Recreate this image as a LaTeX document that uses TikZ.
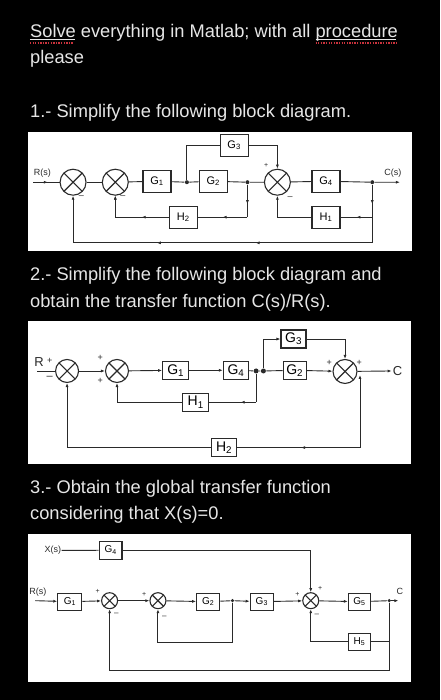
\documentclass[tikz,border=0pt]{standalone}
\usepackage{fontspec}
\setmainfont{Liberation Sans}
\usepackage{xcolor}
\usepackage{tikz}
\usetikzlibrary{arrows.meta, positioning, calc, decorations.markings}

\definecolor{txt}{HTML}{E6E6E6}
\definecolor{wire}{HTML}{2A2A2A}
\definecolor{spell}{HTML}{C8323C}
\newcommand{\fsz}[1]{\fontsize{#1}{#1}\selectfont}

\begin{document}
\begin{tikzpicture}[x=1pt, y=-1pt, >={Latex[length=4pt,width=3pt]},
    every path/.style={draw=wire, line width=0.9pt},
    question/.style={anchor=base west, text=txt, inner sep=0pt, font=\fsz{18.3}},
    sumjn/.style={draw=wire, circle, fill=white, inner sep=0pt, minimum size=#1, line width=1.1pt,
        path picture={\draw[line width=1.1pt] (path picture bounding box.south west) -- (path picture bounding box.north east)
            (path picture bounding box.north west) -- (path picture bounding box.south east);}},
    blk/.style 2 args={draw=wire, rectangle, fill=white, inner sep=0pt, line width=1.2pt, minimum width=#1, minimum height=#2},
    dot/.style={circle, fill=wire, inner sep=0pt, minimum size=#1},
    sgn/.style={inner sep=0pt, text=wire, font=\fsz{#1}},
    midarr/.style={postaction={decorate}, decoration={markings, mark=at position #1 with {\arrow{Latex[length=4pt,width=3pt]}}}},
    twoarr/.style 2 args={postaction={decorate}, decoration={markings,
        mark=at position #1 with {\arrow{Latex[length=4pt,width=3pt]}},
        mark=at position #2 with {\arrow{Latex[length=4pt,width=3pt]}}}}]
    \useasboundingbox (0,0) rectangle (440,700);
    \fill[black] (0,0) rectangle (440,700);

    % questions
    \node[question] (q0a) at (29.3,36.7) {Solve everything in Matlab; with all procedure};
    \node[question] (q0b) at (29.3,63.4) {please};
    \node[question] (q1) at (29.3,116.7) {1.- Simplify the following block diagram.};
    \node[question] (q2a) at (29.3,280.7) {2.- Simplify the following block diagram and};
    \node[question] (q2b) at (29.3,307.4) {obtain the transfer function C(s)/R(s).};
    \node[question] (q3a) at (29.3,493.3) {3.- Obtain the global transfer function};
    \node[question] (q3b) at (29.3,520) {considering that X(s)=0.};
    \draw[txt, line width=0.8pt] (29.5,39.4) -- (74.5,39.4) (315.5,39.4) -- (396.5,39.4);
    \draw[spell, line width=1.3pt, dash pattern=on 1.3pt off 1.3pt] (29.5,42.5) -- (73.5,42.5) (315.5,42.5) -- (396.5,42.5);

    % diagram 1
    \fill[white] (28.3,131.7) rectangle (411.7,250.7);
    \node[sgn=9] (r1) at (42,173) {R(s)};
    \node[sgn=9] (c1) at (393,173) {C(s)};
    \coordinate (in1) at (33,182);
    \coordinate (out1) at (400,182);
    \node[sumjn=26pt] (s11) at (72.7,182) {};
    \node[sumjn=26pt] (s12) at (115,182) {};
    \node[blk={28pt}{22pt}, font=\fsz{11}] (g11) at (156.7,181) {G\textsubscript{1}};
    \node[dot=4pt] (j11) at (186.7,182) {};
    \node[blk={28pt}{22pt}, font=\fsz{11}] (g12) at (213,181) {G\textsubscript{2}};
    \node[dot=4pt] (j12) at (247.3,182) {};
    \node[sumjn=26pt] (s13) at (277.3,182) {};
    \node[blk={28pt}{22pt}, font=\fsz{11}] (g14) at (326,181) {G\textsubscript{4}};
    \node[dot=4pt] (j13) at (372.3,182) {};
    \node[blk={28pt}{22pt}, font=\fsz{11}] (g13) at (234,145) {G\textsubscript{3}};
    \node[blk={28pt}{22pt}, font=\fsz{11}] (h12) at (183,217) {H\textsubscript{2}};
    \node[blk={28pt}{22pt}, font=\fsz{11}] (h11) at (326,217) {H\textsubscript{1}};
    \node[sgn=9] at (81,196.7) {--};
    \node[sgn=9] at (122.7,196.7) {--};
    \node[sgn=9] at (290,197.7) {--};
    \node[sgn=7] at (266,165) {+};
    \coordinate (c11) at (j12 |- h12);
    \coordinate (c12) at (j13 |- h11);
    \coordinate (c13) at (372.3,242.7);
    \coordinate (c14) at (72.7,242.7);

    \draw[midarr=0.55] (in1) -- (s11);
    \draw (s11) -- (s12);
    \draw (s12) -- (g11);
    \draw (g11) -- (j11) -- (g12);
    \draw (g12) -- (j12) -- (s13);
    \draw (s13) -- (g14);
    \draw[->] (g14) -- (j13) -- (out1);
    \draw (j11) |- (g13);
    \draw[->] (g13) -| (s13);
    \draw[midarr=0.6] (j12) -- (c11);
    \draw[midarr=0.5] (c11) -- (h12);
    \draw[->, midarr=0.36] (h12) -| (s12);
    \draw[midarr=0.6] (j13) -- (c12);
    \draw[midarr=0.5] (c12) -- (h11);
    \draw[->] (h11) -| (s13);
    \draw (c12) -- (c13);
    \draw[twoarr={0.39}{0.72}] (c13) -- (c14);
    \draw[->] (c14) -- (s11);

    % diagram 2
    \fill[white] (28.3,321.7) rectangle (410.7,464);
    \node[sgn=13] (r2) at (38.7,362) {R};
    \node[sgn=13] (c2) at (397.5,371.5) {C};
    \node[sgn=9] at (49.3,361) {+};
    \node[sgn=11] at (49.3,378.3) {--};
    \coordinate (in2) at (37,371);
    \coordinate (out2) at (391.7,371);
    \node[sumjn=23pt] (s21) at (66.7,371) {};
    \node[sumjn=23pt] (s22) at (116.7,371) {};
    \node[sgn=9] at (100,357.7) {+};
    \node[sgn=9] at (100,380.5) {+};
    \node[blk={26pt}{18pt}, font=\fsz{14}] (g21) at (175.5,370.3) {G\textsubscript{1}};
    \node[blk={25pt}{18pt}, font=\fsz{14}] (g24) at (235.8,370.3) {G\textsubscript{4}};
    \node[dot=5pt] (j21) at (256,371) {};
    \node[dot=5pt] (j22) at (263.3,371) {};
    \node[blk={23pt}{18pt}, font=\fsz{14}] (g22) at (294.7,370.3) {G\textsubscript{2}};
    \node[blk={25pt}{18pt}, font=\fsz{14}] (g23) at (293.5,339) {G\textsubscript{3}};
    \node[sumjn=24pt] (s23) at (345,371.5) {};
    \node[sgn=9] at (329.3,363.3) {+};
    \node[sgn=9] at (359.3,363.3) {+};
    \node[blk={26pt}{18pt}, font=\fsz{14}] (h21) at (195.5,402.3) {H\textsubscript{1}};
    \node[blk={25pt}{18pt}, font=\fsz{14}] (h22) at (224,447.7) {H\textsubscript{2}};
    \coordinate (c21) at (j21 |- h21);
    \coordinate (c22) at (360,447.7);
    \coordinate (t22) at (360,375);

    \draw (in2) -- (s21);
    \draw[->] (s21) -- (s22);
    \draw[->] (s22) -- (g21);
    \draw[->] (g21) -- (g24);
    \draw (g24) -- (j21) -- (j22) -- (g22);
    \draw[->] (g22) -- (s23);
    \draw[->] (s23) -- (out2);
    \draw[->] (j22) |- (g23);
    \draw[->] (g23) -| (s23);
    \draw (j21) -- (c21);
    \draw[midarr=0.33] (c21) -- (h21);
    \draw[->] (h21) -| (s22);
    \draw[->] (c22) -- (t22);
    \draw[midarr=0.48] (c22) -- (h22);
    \draw[->] (h22) -| (s21);

    % diagram 3
    \fill[white] (28.3,535) rectangle (410.7,681.7);
    \node[sgn=9] (x3) at (52.5,550.7) {X(s)};
    \node[sgn=9] (r3) at (37.5,592.5) {R(s)};
    \node[sgn=9] (c3) at (400,591.7) {C};
    \coordinate (in3) at (35,601);
    \coordinate (out3) at (398.5,601);
    \node[blk={23pt}{18pt}, font=\fsz{10}] (g34) at (110.3,550.5) {G\textsubscript{4}};
    \node[blk={24pt}{17pt}, font=\fsz{10}] (g31) at (69.5,602) {G\textsubscript{1}};
    \node[sumjn=16pt] (s31) at (109.3,601) {};
    \node[sumjn=16pt] (s32) at (157.7,601) {};
    \node[blk={23pt}{17pt}, font=\fsz{10}] (g32) at (208,602) {G\textsubscript{2}};
    \node[dot=3.5pt] (j31) at (232.3,601) {};
    \node[blk={23pt}{17pt}, font=\fsz{10}] (g33) at (261.7,602) {G\textsubscript{3}};
    \node[sumjn=16pt] (s33) at (310.7,601) {};
    \node[blk={22pt}{17pt}, font=\fsz{10}] (g35) at (359.5,602) {G\textsubscript{5}};
    \node[dot=3.5pt] (j32) at (389.3,601) {};
    \node[blk={22pt}{17pt}, font=\fsz{10}] (h35) at (359.5,642) {H\textsubscript{5}};
    \node[sgn=7] at (97.3,591.7) {+};
    \node[sgn=8] at (116,615) {--};
    \node[sgn=7] at (144,595) {+};
    \node[sgn=8] at (164,617.3) {--};
    \node[sgn=7] at (297.3,595) {+};
    \node[sgn=7] at (320,588.3) {+};
    \node[sgn=8] at (316.7,616) {--};
    \coordinate (c31) at (232.3,643.3);
    \coordinate (c32) at (389.3,670.7);

    \draw (x3) -- (g34);
    \draw[->] (g34) -| (s33);
    \draw[->] (in3) -- (g31);
    \draw[->] (g31) -- (s31);
    \draw[->] (s31) -- (s32);
    \draw[->] (s32) -- (g32);
    \draw (g32) -- (j31);
    \draw[->] (j31) -- (g33);
    \draw[->] (g33) -- (s33);
    \draw[->] (s33) -- (g35);
    \draw (g35) -- (j32);
    \draw[->] (j32) -- (out3);
    \draw[->] (j31) -- (c31) -| (s32);
    \draw (j32) |- (h35);
    \draw[->] (h35) -| (s33);
    \draw[->] (j32) -- (c32) -| (s31);
\end{tikzpicture}
\end{document}
